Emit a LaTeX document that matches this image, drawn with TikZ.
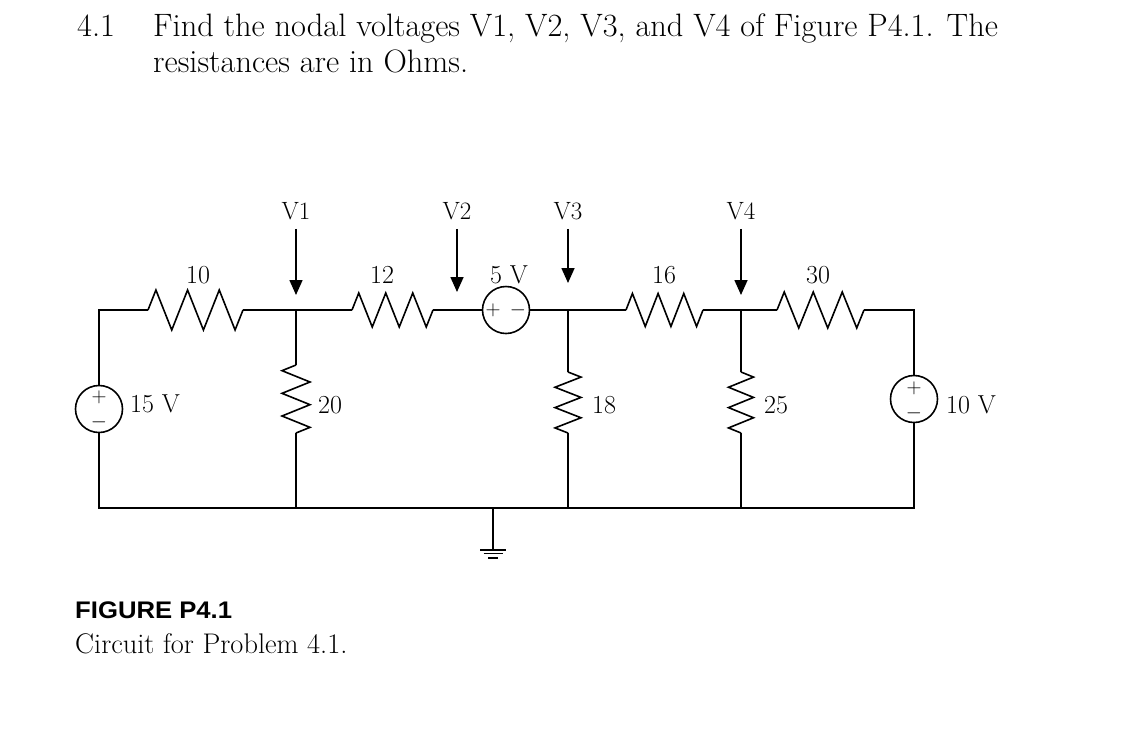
\documentclass[tikz,border=0pt]{standalone}
\usepackage{fontspec}
\newfontfamily\figfont[FakeStretch=1.07]{Liberation Sans}
\usetikzlibrary{calc,arrows.meta}
% three teeth between two named points, #3 = height of a tooth
\newcommand{\resistor}[3]{
  \draw[wire] (#1) \foreach \t/\a in {1/90,3/-90,5/90,7/-90,9/90,11/-90} {
    -- ($(#1)!\t/12!(#2)!#3!\a:(#2)$)
  } -- (#2);
}

\begin{document}
\begin{tikzpicture}[x=1pt,y=-1pt,
    wire/.style={line width=1.6pt, line join=miter},
    probe/.style={line width=1.6pt, -{Triangle[length=15pt,width=13pt]}},
    vsrc/.style={draw, circle, line width=1.6pt, minimum size=47pt, inner sep=0pt},
    value/.style={inner sep=0pt, font=\fontsize{26}{30}\selectfont},
    nodename/.style={inner sep=9pt, font=\fontsize{25}{30}\selectfont},
    sign/.style={inner sep=0pt, font=\fontsize{22}{24}\selectfont},
    prose/.style={anchor=base west, inner sep=0pt, font=\fontsize{32.4}{38}\selectfont}]
  \useasboundingbox (0,0) rectangle (1133,753);

  % problem statement
  \node[prose] (num) at (77,36) {4.1};
  \node[prose] (q1) at (153,36) {Find the nodal voltages V1, V2, V3, and V4 of Figure P4.1. The};
  \node[prose] (q2) at (153,72) {resistances are in Ohms.};

  % junctions
  \coordinate (tl) at (99,310);
  \coordinate (n1) at (296,310);
  \coordinate (n3) at (568,310);
  \coordinate (n4) at (741,310);
  \coordinate (tr) at (914,310);
  \coordinate (bl) at (99,508);
  \coordinate (b1) at (296,508);
  \coordinate (gnd) at (493,508);
  \coordinate (b3) at (568,508);
  \coordinate (b4) at (741,508);
  \coordinate (br) at (914,508);

  % resistor ends
  \coordinate (r10a) at (148,310); \coordinate (r10b) at (243,310);
  \coordinate (r12a) at (352,310); \coordinate (r12b) at (433,310);
  \coordinate (r16a) at (626,310); \coordinate (r16b) at (703,310);
  \coordinate (r30a) at (777,310); \coordinate (r30b) at (864,310);
  \coordinate (r20a) at (296,365); \coordinate (r20b) at (296,433);
  \coordinate (r18a) at (568,372); \coordinate (r18b) at (568,433);
  \coordinate (r25a) at (741,372); \coordinate (r25b) at (741,433);

  % sources
  \node[vsrc] (s15) at (99,409) {};
  \node[sign] (s15p) at ($(s15)+(0,-12)$) {$+$};
  \node[sign] (s15m) at ($(s15)+(0,13)$) {$-$};
  \node[vsrc] (s5) at (506,310) {};
  \node[sign] (s5p) at ($(s5)+(-13,0)$) {$+$};
  \node[sign] (s5m) at ($(s5)+(12,0)$) {$-$};
  \node[vsrc] (s10) at (914,399) {};
  \node[sign] (s10p) at ($(s10)+(0,-11)$) {$+$};
  \node[sign] (s10m) at ($(s10)+(0,14)$) {$-$};

  % top row
  \draw[wire] (s15.north) -- (tl) -- (r10a);
  \resistor{r10a}{r10b}{20pt}
  \draw[wire] (r10b) -- (n1) -- (r12a);
  \resistor{r12a}{r12b}{17pt}
  \draw[wire] (r12b) -- (s5.west);
  \draw[wire] (s5.east) -- (n3) -- (r16a);
  \resistor{r16a}{r16b}{16.5pt}
  \draw[wire] (r16b) -- (n4) -- (r30a);
  \resistor{r30a}{r30b}{18pt}
  \draw[wire] (r30b) -- (tr) -- (s10.north);
  \draw[wire] (s10.south) -- (br) -- (bl) -- (s15.south);

  % shunt branches
  \draw[wire] (n1) -- (r20a);
  \resistor{r20a}{r20b}{-14pt}
  \draw[wire] (r20b) -- (b1);
  \draw[wire] (n3) -- (r18a);
  \resistor{r18a}{r18b}{13pt}
  \draw[wire] (r18b) -- (b3);
  \draw[wire] (n4) -- (r25a);
  \resistor{r25a}{r25b}{12.5pt}
  \draw[wire] (r25b) -- (b4);

  % ground
  \draw[wire] (gnd) -- ++(0,42) coordinate (gtip);
  \draw[line width=1.5pt] ($(gtip)+(-13,0)$) -- ++(26,0);
  \draw[line width=1.5pt] ($(gtip)+(-9.5,3.5)$) -- ++(19,0);
  \draw[line width=1.5pt] ($(gtip)+(-5,8)$) -- ++(10,0);

  % values
  \node[value] (l10) at (198,275) {10};
  \node[value] (l12) at (382,275) {12};
  \node[value] (l5) at (509,275) {5 V};
  \node[value] (l16) at (664,275) {16};
  \node[value] (l30) at (818,275) {30};
  \node[value, anchor=west] (l15) at (130,404) {15 V};
  \node[value, anchor=west] (l20) at (318,405) {20};
  \node[value, anchor=west] (l18) at (592,405) {18};
  \node[value, anchor=west] (l25) at (764,405) {25};
  \node[value, anchor=west] (l10v) at (946,405) {10 V};

  % node voltage markers
  \node[nodename] (lv1) at (296,211) {V1};
  \node[nodename] (lv2) at (457,211) {V2};
  \node[nodename] (lv3) at (568,211) {V3};
  \node[nodename] (lv4) at (741,211) {V4};
  \coordinate (h1) at (296,295);
  \coordinate (h2) at (457,292);
  \coordinate (h3) at (568,283);
  \coordinate (h4) at (741,295);
  \draw[probe] (lv1) -- (h1);
  \draw[probe] (lv2) -- (h2);
  \draw[probe] (lv3) -- (h3);
  \draw[probe] (lv4) -- (h4);

  % caption
  \node[anchor=base west, inner sep=0pt, font=\figfont\bfseries\fontsize{24}{28}\selectfont] (fig) at (75,618) {FIGURE P4.1};
  \node[anchor=base west, inner sep=0pt, font=\fontsize{28.4}{32}\selectfont] (cap) at (75,653) {Circuit for Problem 4.1.};
\end{tikzpicture}
\end{document}
